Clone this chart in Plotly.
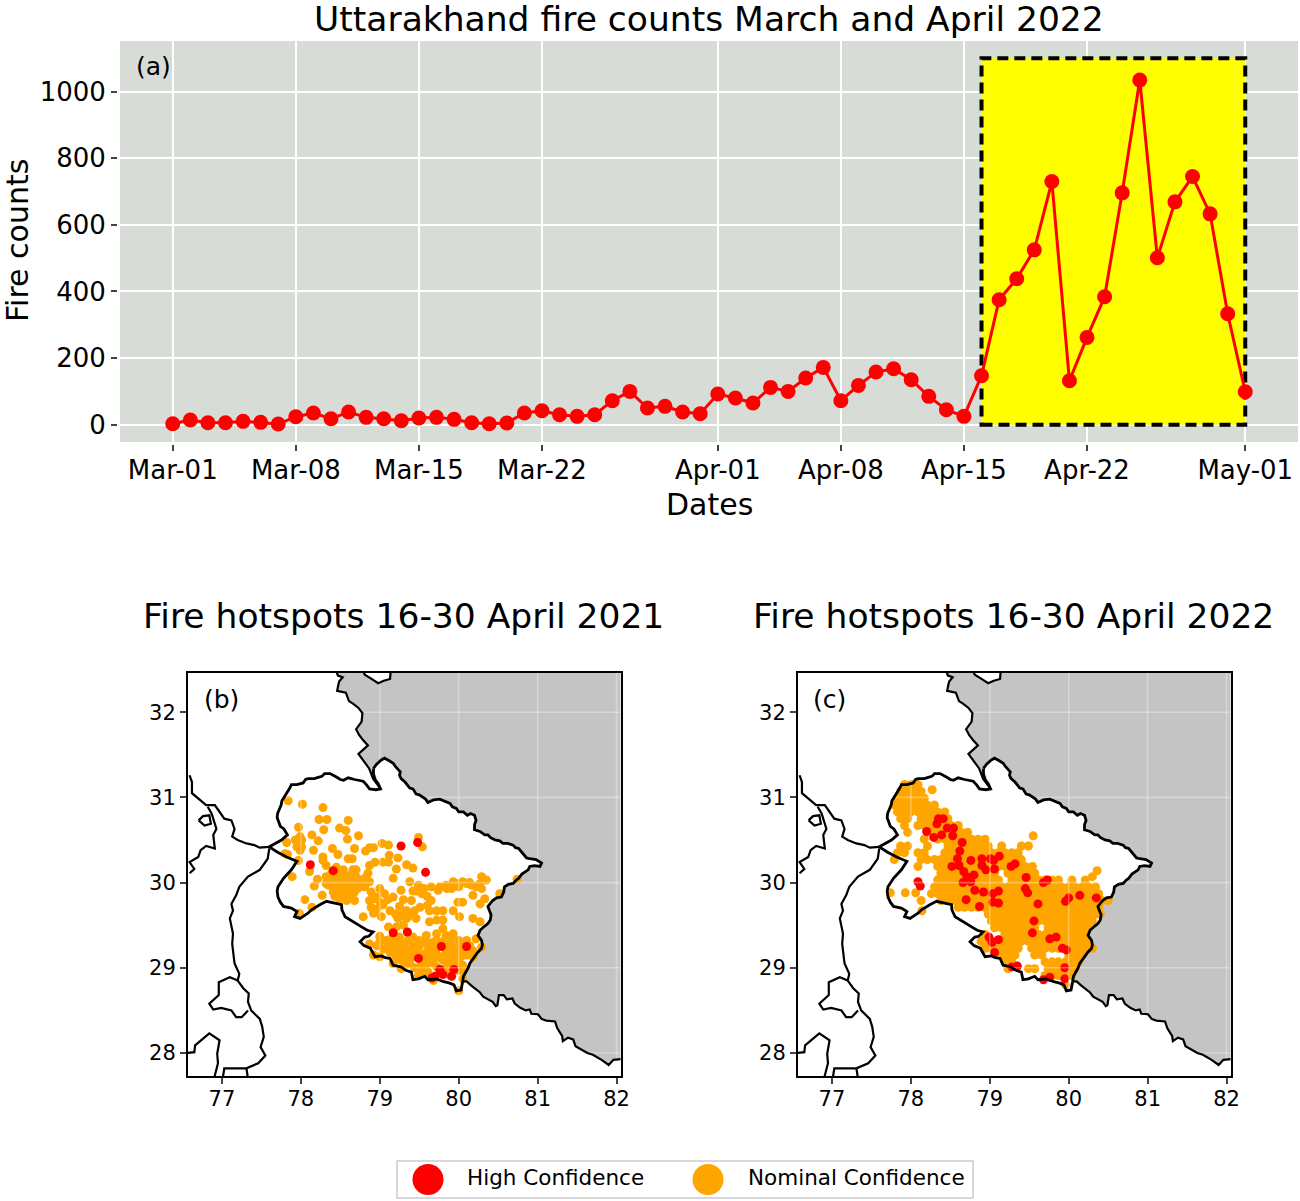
import plotly.graph_objects as go

W, H = 1300, 1201
FONT = "DejaVu Sans"

# Daily fire counts, 1 March to 1 May 2022
dates_march = [f"2022-03-{d:02d}" for d in range(1, 32)]
dates_april = [f"2022-04-{d:02d}" for d in range(1, 31)]
dates = dates_march + dates_april + ["2022-05-01"]
fire_counts = [3, 14, 6, 6, 10, 7, 2, 24, 35, 18, 38, 22, 18, 12, 20, 22, 16, 6, 3, 5, 35, 42, 30,
               25, 30, 72, 100, 50, 55, 38, 33,
               92, 80, 65, 112, 100, 140, 172, 72, 118, 158, 168, 135, 85, 45, 25,
               147, 375, 438, 525, 730, 132, 262, 384, 696, 1035, 501, 669, 745, 633, 333, 99]
date_ticks = ["2022-03-01", "2022-03-08", "2022-03-15", "2022-03-22", "2022-04-01",
              "2022-04-08", "2022-04-15", "2022-04-22", "2022-05-01"]
date_labels = ["Mar-01", "Mar-08", "Mar-15", "Mar-22", "Apr-01", "Apr-08", "Apr-15", "Apr-22", "May-01"]
count_ticks = [0, 200, 400, 600, 800, 1000]

# Map ticks in degrees
lon_ticks = [77, 78, 79, 80, 81, 82]
lat_ticks = [28, 29, 30, 31, 32]

# Uttarakhand outline (lon, lat), split at the corners it shares with the grey area
uttarakhand_west = [
    (77.60, 30.42), (77.68, 30.46), (77.755, 30.50), (77.83, 30.56), (77.80, 30.60), (77.785, 30.63), (77.74, 30.66),
    (77.72, 30.70), (77.70, 30.76), (77.705, 30.81), (77.73, 30.86), (77.75, 30.91), (77.76, 30.96), (77.78, 30.99),
    (77.84, 31.07), (77.86, 31.11), (77.88, 31.15), (77.95, 31.15), (78.03, 31.17), (78.06, 31.21), (78.09, 31.22),
    (78.17, 31.22), (78.24, 31.24), (78.27, 31.25), (78.30, 31.28), (78.37, 31.28), (78.45, 31.24), (78.50, 31.21),
    (78.54, 31.20), (78.60, 31.23), (78.68, 31.21), (78.79, 31.19), (78.83, 31.15), (78.87, 31.10), (78.95, 31.09),
    (79.01, 31.10), (78.98, 31.16), (78.94, 31.21), (78.92, 31.27),
]
uttarakhand_north_east = [
    (78.92, 31.34), (78.96, 31.39), (79.02, 31.44), (79.06, 31.46), (79.12, 31.43), (79.17, 31.40), (79.20, 31.36),
    (79.26, 31.30), (79.25, 31.26), (79.27, 31.22), (79.32, 31.18), (79.38, 31.11), (79.42, 31.10), (79.46, 31.04),
    (79.50, 31.03), (79.55, 31.00), (79.58, 30.98), (79.61, 30.94), (79.68, 30.97), (79.76, 30.98), (79.82, 30.96),
    (79.89, 30.93), (79.92, 30.89), (79.97, 30.87), (80.00, 30.83), (80.06, 30.83), (80.11, 30.79), (80.15, 30.81),
    (80.20, 30.79), (80.22, 30.73), (80.20, 30.68), (80.20, 30.62), (80.27, 30.60), (80.33, 30.56), (80.37, 30.56),
    (80.40, 30.53), (80.46, 30.50), (80.52, 30.49), (80.56, 30.46), (80.62, 30.46), (80.69, 30.44), (80.72, 30.41),
    (80.76, 30.40), (80.82, 30.34), (80.86, 30.29), (80.90, 30.28), (80.98, 30.27), (81.05, 30.23), (81.03, 30.19),
    (80.96, 30.20), (80.90, 30.19), (80.88, 30.15), (80.84, 30.13), (80.80, 30.10), (80.76, 30.05), (80.73, 30.03),
    (80.69, 29.99), (80.63, 29.98), (80.58, 29.95), (80.57, 29.89), (80.54, 29.83), (80.48, 29.82), (80.43, 29.79),
    (80.40, 29.75), (80.37, 29.72), (80.39, 29.67), (80.41, 29.62), (80.40, 29.56), (80.37, 29.52), (80.33, 29.49),
    (80.27, 29.44), (80.245, 29.38), (80.29, 29.32), (80.30, 29.27), (80.29, 29.23), (80.24, 29.18), (80.20, 29.13),
    (80.14, 29.05), (80.12, 29.00), (80.10, 28.97), (80.06, 28.90), (80.05, 28.84),
]
uttarakhand_south = [
    (80.05, 28.84), (80.04, 28.78), (80.03, 28.74), (79.97, 28.73), (79.94, 28.80), (79.885, 28.82), (79.80, 28.84),
    (79.72, 28.87), (79.61, 28.86), (79.57, 28.90), (79.49, 28.87), (79.42, 28.86), (79.41, 28.91), (79.40, 28.95),
    (79.33, 28.97), (79.27, 29.01), (79.17, 29.03), (79.15, 29.08), (79.13, 29.11), (79.07, 29.12), (79.02, 29.14),
    (78.94, 29.13), (78.91, 29.19), (78.88, 29.23), (78.80, 29.26), (78.75, 29.305), (78.81, 29.36), (78.86, 29.37),
    (78.915, 29.42), (78.84, 29.44), (78.77, 29.48), (78.68, 29.53), (78.62, 29.56), (78.56, 29.60), (78.54, 29.64),
    (78.52, 29.68), (78.515, 29.74), (78.43, 29.76), (78.325, 29.78), (78.24, 29.74), (78.135, 29.68), (78.09, 29.64),
    (77.99, 29.58), (77.92, 29.60), (77.95, 29.66), (77.88, 29.70), (77.78, 29.72), (77.74, 29.77), (77.71, 29.83),
    (77.70, 29.90), (77.71, 29.95), (77.78, 30.05), (77.83, 30.10), (77.88, 30.15), (77.95, 30.25), (77.82, 30.30),
    (77.70, 30.36), (77.60, 30.42),
]

# Northern border running down to the state's northern corner
china_west_border = [
    (78.44, 32.50), (78.47, 32.43), (78.53, 32.41), (78.485, 32.36), (78.47, 32.30), (78.46, 32.25), (78.57, 32.23),
    (78.61, 32.13), (78.66, 32.10), (78.73, 32.05), (78.78, 31.99), (78.77, 31.89), (78.70, 31.80), (78.74, 31.73),
    (78.79, 31.67), (78.85, 31.61), (78.73, 31.51), (78.79, 31.44), (78.865, 31.34), (78.915, 31.22), (78.97, 31.15),
    (79.01, 31.10),
]

# Nepal-India border, west to east
nepal_border = [
    (80.05, 28.84), (80.10, 28.84), (80.16, 28.79), (80.22, 28.74), (80.27, 28.71), (80.31, 28.66), (80.35, 28.64),
    (80.43, 28.60), (80.47, 28.55), (80.49, 28.56), (80.51, 28.68), (80.57, 28.68), (80.61, 28.63), (80.68, 28.64),
    (80.71, 28.58), (80.78, 28.53), (80.85, 28.50), (80.90, 28.51), (80.92, 28.46), (81.005, 28.455), (81.05, 28.40),
    (81.11, 28.38), (81.22, 28.37), (81.25, 28.29), (81.31, 28.20), (81.32, 28.14), (81.385, 28.18), (81.45, 28.16),
    (81.48, 28.08), (81.63, 28.00), (81.70, 27.98), (81.81, 27.92), (81.90, 27.86), (81.96, 27.92), (82.10, 27.93),
]

# Small border wedge on the top edge
top_notch = [(78.78, 32.50), (78.81, 32.44), (78.88, 32.40), (78.98, 32.34), (79.05, 32.37), (79.13, 32.39),
             (79.135, 32.45), (79.14, 32.50)]

# State borders across the plains
west_border_a = [
    (76.59, 31.26), (76.62, 31.18), (76.62, 31.05), (76.70, 30.99), (76.80, 30.91), (76.91, 30.91), (76.97, 30.83),
    (77.03, 30.75), (77.12, 30.73), (77.16, 30.63), (77.13, 30.54), (77.20, 30.50), (77.31, 30.46), (77.41, 30.44),
    (77.48, 30.41), (77.60, 30.42),
]
west_border_b = [
    (76.82, 30.89), (76.87, 30.81), (76.93, 30.63), (76.89, 30.56), (76.91, 30.40), (76.80, 30.43), (76.73, 30.38),
    (76.70, 30.30), (76.59, 30.24), (76.65, 30.16), (76.59, 30.11),
]
west_loop = [(76.705, 30.73), (76.76, 30.78), (76.84, 30.79), (76.86, 30.69), (76.78, 30.67), (76.705, 30.73)]
south_border = [
    (77.60, 30.40), (77.58, 30.28), (77.48, 30.15), (77.33, 30.07), (77.22, 29.95), (77.18, 29.85), (77.12, 29.75),
    (77.14, 29.67), (77.10, 29.58), (77.11, 29.54), (77.14, 29.40), (77.13, 29.28), (77.14, 29.17), (77.16, 29.05),
    (77.22, 28.93), (77.20, 28.85), (77.27, 28.76), (77.34, 28.70), (77.33, 28.60), (77.37, 28.50), (77.48, 28.40),
    (77.51, 28.31), (77.53, 28.19), (77.49, 28.07), (77.55, 27.97), (77.46, 27.88), (77.31, 27.82), (77.18, 27.82),
    (77.03, 27.82), (77.01, 27.70),
]
south_stub = [(77.31, 27.82), (77.33, 27.70)]
south_loop = [
    (77.20, 28.85), (77.10, 28.89), (76.96, 28.83), (76.96, 28.68), (76.84, 28.58), (76.89, 28.51), (76.99, 28.53),
    (77.12, 28.50), (77.18, 28.42), (77.25, 28.42), (77.33, 28.50),
]
south_west_border = [
    (76.55, 28.00), (76.65, 28.01), (76.66, 28.09), (76.78, 28.18), (76.84, 28.23), (76.97, 28.15), (76.94, 27.99),
    (76.95, 27.88), (76.90, 27.70),
]

# Fire detections for April 2021: nominal confidence
nominal_2021 = [
    (77.84, 30.96), (78.02, 30.92), (78.28, 30.88), (78.23, 30.74), (78.33, 30.74), (78.60, 30.73), (77.97, 30.65),
    (78.29, 30.62), (78.49, 30.64), (78.57, 30.61), (78.73, 30.55), (78.14, 30.56), (78.59, 30.51), (77.99, 30.54),
    (77.93, 30.50), (77.82, 30.47), (78.01, 30.50), (77.95, 30.42), (78.01, 30.42), (77.99, 30.38), (78.22, 30.49),
    (78.16, 30.38), (77.80, 30.34), (77.83, 30.33), (78.40, 30.40), (78.28, 30.30), (78.47, 30.33), (78.60, 30.28),
    (78.65, 30.28), (78.68, 30.40), (78.82, 30.37), (78.87, 30.41), (78.92, 30.41), (79.03, 30.46), (79.11, 30.44),
    (79.49, 30.53), (79.54, 30.42), (79.23, 30.29), (79.12, 30.32), (79.11, 30.24), (79.04, 30.24), (78.94, 30.24),
    (78.87, 30.20), (79.34, 30.21), (79.42, 30.17), (79.21, 30.16), (79.17, 30.05), (78.85, 30.11), (78.81, 30.05),
    (78.28, 30.26), (78.32, 30.20), (77.97, 30.26), (78.11, 30.13), (77.89, 30.07), (78.21, 30.04), (78.17, 29.96),
    (78.27, 29.85), (78.05, 29.80), (78.14, 29.71), (77.98, 29.64),
    (78.45, 30.18), (78.54, 30.15), (78.39, 30.11), (78.32, 30.07), (78.45, 30.09), (78.56, 30.07), (78.66, 30.15),
    (78.70, 30.07), (78.77, 30.03), (78.41, 30.03), (78.49, 30.01), (78.60, 29.99), (78.68, 29.99), (78.35, 29.97),
    (78.43, 29.95), (78.54, 29.93), (78.64, 29.93), (78.75, 29.95), (78.81, 29.95), (78.41, 29.89), (78.49, 29.87),
    (78.60, 29.87), (78.68, 29.89), (78.49, 29.81), (78.58, 29.79), (78.68, 29.79), (78.32, 29.99), (78.70, 30.15),
    (78.87, 30.01), (78.52, 30.03), (78.47, 29.92), (78.55, 29.84), (78.50, 30.10), (78.60, 30.08), (78.38, 30.05),
    (78.45, 29.98), (78.55, 29.98), (78.52, 29.90), (78.62, 29.83), (78.43, 29.84), (78.64, 30.03), (78.72, 29.93),
    (78.89, 29.89), (78.96, 29.83), (78.87, 29.79), (79.00, 29.77), (79.06, 29.87), (79.17, 29.83), (79.13, 29.67),
    (78.96, 29.69), (79.02, 29.60), (78.89, 29.71), (78.79, 29.60), (78.92, 29.64), (79.27, 29.91), (79.38, 30.01),
    (79.49, 29.97), (79.53, 29.87), (79.40, 29.79), (79.51, 29.71), (79.65, 29.79), (79.34, 29.67), (79.23, 29.58),
    (79.34, 29.58), (79.46, 29.58), (79.30, 29.50), (79.11, 29.48), (79.21, 29.48), (79.00, 29.37), (79.65, 29.95),
    (79.74, 29.91), (79.84, 29.97), (79.93, 30.01), (80.05, 30.01), (80.16, 29.97), (80.29, 30.07), (80.35, 30.03),
    (80.29, 29.93), (80.18, 29.85), (80.33, 29.81), (80.27, 29.75), (80.05, 29.77), (79.99, 29.77), (79.93, 29.67),
    (80.01, 29.60), (80.18, 29.58), (80.27, 29.54), (79.80, 29.67), (79.72, 29.67), (79.63, 29.67), (79.80, 29.56),
    (79.72, 29.56), (79.63, 29.54), (80.52, 29.87), (80.74, 30.04), (79.76, 29.95), (79.91, 29.93), (80.10, 29.99),
    (80.22, 29.95), (79.97, 29.99), (79.00, 29.93), (79.10, 29.80), (79.25, 29.72), (79.46, 29.90), (79.60, 29.73),
    (79.30, 29.80), (79.44, 29.67), (78.93, 29.81), (79.04, 29.74), (79.20, 29.63), (79.28, 29.62), (79.40, 29.62),
    (79.42, 29.90), (79.56, 29.93), (79.60, 29.84), (79.85, 29.93), (80.00, 29.95), (80.14, 30.00), (80.26, 29.98),
    (79.80, 29.46), (79.72, 29.40), (79.59, 29.38), (79.42, 29.36), (79.93, 29.40), (79.84, 29.38), (80.10, 29.32),
    (80.22, 29.34), (80.29, 29.24), (79.25, 29.36), (79.08, 29.32), (78.96, 29.26), (78.87, 29.28), (79.04, 29.22),
    (79.17, 29.24), (79.30, 29.28), (79.42, 29.26), (79.55, 29.30), (79.68, 29.30), (79.89, 29.30), (79.97, 29.24),
    (80.18, 29.20), (79.21, 29.13), (79.34, 29.18), (79.46, 29.20), (79.59, 29.18), (79.72, 29.16), (79.84, 29.18),
    (79.97, 29.13), (80.10, 29.15), (80.18, 29.13), (79.00, 29.13), (79.17, 29.05), (79.27, 28.99), (79.38, 29.05),
    (79.51, 29.01), (79.63, 29.07), (79.80, 29.09), (79.93, 29.07), (80.05, 29.03), (79.61, 28.95), (79.49, 28.91),
    (79.68, 28.85), (80.00, 28.73), (79.84, 29.01), (78.92, 29.15), (79.13, 29.18), (79.27, 29.09), (79.97, 28.97),
    (80.05, 28.87), (79.42, 29.13), (79.53, 29.09), (79.68, 29.22), (79.78, 29.26), (80.05, 29.24), (80.14, 29.26),
    (79.23, 29.22), (79.89, 29.13), (79.72, 29.01), (80.03, 29.13), (79.12, 29.26), (79.36, 29.33), (79.50, 29.25),
    (79.62, 29.24), (79.92, 29.22), (80.00, 29.32), (79.90, 28.99), (79.78, 28.96), (79.60, 29.12), (79.34, 29.10),
    (79.00, 29.30), (79.12, 29.33), (79.20, 29.31), (79.28, 29.21), (79.38, 29.22), (79.50, 29.32), (79.60, 29.30),
    (79.72, 29.32), (79.82, 29.32), (79.90, 29.36), (80.00, 29.18), (80.08, 29.20), (80.15, 29.20), (79.88, 29.08),
    (79.76, 29.12), (79.66, 29.13), (79.52, 29.15), (79.58, 29.03), (79.68, 29.05), (79.98, 29.05), (80.03, 28.97),
    (79.85, 29.24), (79.72, 29.24), (79.27, 29.16), (79.33, 29.04), (79.44, 29.00), (79.54, 28.96), (79.88, 28.92),
]

# Fire detections for April 2021: high confidence
high_2021 = [
    (79.27, 30.43), (79.48, 30.47), (79.58, 30.12), (78.12, 30.21), (78.41, 30.14), (79.17, 29.41), (79.35, 29.42),
    (79.78, 29.25), (80.10, 29.25), (79.49, 29.11), (79.76, 28.98), (79.94, 28.98), (79.70, 28.90), (79.80, 28.92),
    (79.91, 28.90), (79.66, 28.88),
]

# Fire detections for April 2022: nominal confidence, one row per band of latitude
nominal_2022_rows = [
    (31.15, [77.92, 78.00, 78.09]),
    (31.09, [78.27]),
    (31.07, [77.87, 77.96, 78.04, 78.13]),
    (30.99, [77.83, 77.92, 78.00, 78.09, 78.17]),
    (30.91, [77.79, 77.87, 77.96, 78.04, 78.13, 78.21, 78.30]),
    (30.83, [77.83, 77.92, 78.00, 78.09, 78.17, 78.26, 78.34, 78.43]),
    (30.75, [77.87, 77.96, 78.13, 78.21, 78.30, 78.38, 78.47]),
    (30.67, [77.92, 78.09, 78.17, 78.26, 78.34, 78.43, 78.51, 78.60]),
    (30.59, [77.96, 78.21, 78.30, 78.38, 78.47, 78.55, 78.64, 78.72]),
    (30.55, [79.55]),
    (30.51, [78.17, 78.34, 78.43, 78.51, 78.60, 78.68, 78.77, 78.85, 78.94]),
    (30.43, [77.87, 77.96, 78.21, 78.47, 78.55, 78.64, 78.72, 78.81, 78.89, 78.98, 79.15, 79.40, 79.49]),
    (30.35, [77.83, 77.92, 78.09, 78.17, 78.43, 78.51, 78.60, 78.68, 78.77, 78.85, 78.94, 79.02, 79.11, 79.19, 79.28, 79.36]),
    (30.27, [77.79, 78.13, 78.21, 78.30, 78.38, 78.47, 78.55, 78.64, 78.72, 78.81, 78.89, 78.98, 79.06, 79.15, 79.23, 79.32, 79.40]),
    (30.19, [78.09, 78.34, 78.43, 78.51, 78.60, 78.68, 78.77, 78.85, 78.94, 79.02, 79.11, 79.19, 79.28, 79.36, 79.45, 79.54]),
    (30.14, [80.36]),
    (30.11, [78.38, 78.47, 78.55, 78.64, 78.72, 78.81, 78.89, 78.98, 79.06, 79.23, 79.32, 79.40, 79.49, 79.57]),
    (30.07, [80.30]),
    (30.03, [78.34, 78.43, 78.51, 78.60, 78.68, 78.77, 78.85, 78.94, 79.02, 79.11, 79.28, 79.36, 79.45, 79.53, 79.62, 79.70, 79.79,
             79.87, 80.04, 80.21]),
    (29.95, [78.30, 78.38, 78.47, 78.55, 78.64, 78.72, 78.81, 78.89, 78.98, 79.06, 79.15, 79.23, 79.32, 79.40, 79.49, 79.57,
             79.66, 79.74, 79.83, 79.91, 80.00, 80.08, 80.17, 80.25, 80.34]),
    (29.88, [77.93, 78.06, 77.74]),
    (29.87, [78.26, 78.34, 78.43, 78.51, 78.60, 78.68, 78.77, 78.85, 78.94, 79.02, 79.11, 79.19, 79.28, 79.36, 79.45,
             79.53, 79.62, 79.70, 79.79, 79.87, 79.96, 80.04, 80.13, 80.21, 80.30, 80.38]),
    (29.79, [78.13, 78.38, 78.47, 78.55, 78.64, 78.72, 78.81, 78.89, 78.98, 79.06, 79.15, 79.23, 79.32, 79.40, 79.49,
             79.57, 79.66, 79.74, 79.83, 79.91, 80.00, 80.08, 80.17, 80.25, 80.34, 80.42, 80.50]),
    (29.71, [78.60, 78.68, 78.77, 78.85, 78.94, 79.02, 79.11, 79.19, 79.28, 79.36, 79.45, 79.53, 79.62, 79.70, 79.79,
             79.87, 79.96, 80.04, 80.13, 80.21, 80.30, 80.38]),
    (29.67, [78.14]),
    (29.63, [78.98, 79.06, 79.15, 79.23, 79.32, 79.40, 79.49, 79.57, 79.66, 79.74, 79.83, 79.91, 80.00, 80.08, 80.17,
             80.25, 80.34, 80.40]),
    (29.55, [79.02, 79.11, 79.19, 79.28, 79.36, 79.45, 79.53, 79.62, 79.70, 79.79, 79.87, 79.96, 80.04, 80.13, 80.21, 80.30]),
    (29.47, [79.06, 79.15, 79.23, 79.32, 79.40, 79.49, 79.57, 79.74, 79.83, 79.91, 80.00, 80.08, 80.17, 80.25]),
    (29.39, [78.94, 79.19, 79.28, 79.36, 79.45, 79.53, 79.62, 79.70, 79.79, 79.87, 79.96, 80.04, 80.13, 80.21]),
    (29.31, [78.89, 78.98, 79.06, 79.15, 79.23, 79.32, 79.40, 79.49, 79.57, 79.66, 79.74, 79.83, 79.91, 80.00, 80.08,
             80.17, 80.25]),
    (29.23, [78.94, 79.02, 79.11, 79.19, 79.28, 79.36, 79.53, 79.62, 79.70, 79.79, 79.87, 79.96, 80.04, 80.13, 80.21, 80.30]),
    (29.15, [79.15, 79.23, 79.32, 79.57, 79.66, 80.00, 80.08, 80.17]),
    (29.07, [79.19, 79.28, 79.70, 79.79, 79.87, 79.96, 80.04, 80.13]),
    (28.99, [79.23, 79.49, 79.57, 79.74, 79.83, 79.91, 80.00, 80.08]),
    (28.91, [79.70, 79.79, 79.87, 79.96, 80.04]),
    (28.80, [79.96]),
]

# Fire detections for April 2022: high confidence
high_2022 = [
    (78.35, 30.75), (78.41, 30.75), (78.33, 30.69), (78.46, 30.64), (78.54, 30.64), (78.53, 30.55), (78.39, 30.56),
    (78.20, 30.60), (78.29, 30.53), (78.65, 30.47), (78.62, 30.37), (78.59, 30.28), (78.76, 30.26), (78.52, 30.19),
    (78.61, 30.20), (78.67, 30.13), (78.90, 30.28), (79.01, 30.28), (79.12, 30.31), (78.90, 30.20), (78.95, 30.15),
    (79.06, 30.16), (79.05, 30.26), (78.71, 30.07), (78.80, 30.09), (78.76, 30.01), (78.66, 30.00), (79.32, 30.22),
    (79.27, 30.19), (79.46, 30.06), (79.68, 30.00), (79.73, 30.03), (79.45, 29.93), (79.48, 29.88), (79.61, 29.75),
    (79.56, 29.55), (79.54, 29.41), (79.76, 29.34), (79.84, 29.36), (79.92, 29.23), (79.97, 29.21), (79.95, 29.00),
    (79.95, 28.87), (79.68, 28.86), (79.76, 28.89), (80.00, 29.82), (79.96, 29.78), (80.14, 29.85), (80.35, 29.82),
    (78.09, 30.01), (78.12, 29.96), (78.81, 29.91), (78.92, 29.89), (79.04, 29.87), (79.11, 29.90), (79.04, 29.77),
    (79.11, 29.76), (78.87, 29.72), (78.70, 29.80), (78.99, 29.36), (79.03, 29.30), (79.11, 29.33), (79.06, 29.18),
    (79.28, 29.01), (79.35, 29.02),
]

legend_labels = ["High Confidence", "Nominal Confidence"]
legend_colors = ["#ff0000", "#ffa500"]
RED, ORANGE = legend_colors
LAND_GREY = "#c4c4c4"
PANEL_GREY = "#d8dcd6"


def frac_x(px):
    return px / W


def frac_y(px):
    return 1 - px / H


def unzip(points):
    return [p[0] for p in points], [p[1] for p in points]


nominal_2022 = [(lon, lat) for lat, lons in nominal_2022_rows for lon in lons]

fig = go.Figure()

# Time series of fire counts
fig.add_trace(go.Scatter(x=dates, y=fire_counts, mode="lines+markers", xaxis="x", yaxis="y",
                         line=dict(color=RED, width=3), marker=dict(color=RED, size=15),
                         showlegend=False, hoverinfo="x+y"))

# Grey area outside India, closed round the plot's top-right corner
grey_outline = china_west_border + uttarakhand_north_east + nepal_border + [(82.10, 32.50)] + top_notch[::-1]


def add_map(axis_x, axis_y, nominal, high):
    common = dict(xaxis=axis_x, yaxis=axis_y, showlegend=False, hoverinfo="skip")
    gx, gy = unzip(grey_outline)
    fig.add_trace(go.Scatter(x=gx, y=gy, mode="none", fill="toself", fillcolor=LAND_GREY, **common))
    nx, ny = unzip(nominal)
    fig.add_trace(go.Scatter(x=nx, y=ny, mode="markers", marker=dict(color=ORANGE, size=9),
                             name=legend_labels[1], xaxis=axis_x, yaxis=axis_y, showlegend=False))
    hx, hy = unzip(high)
    fig.add_trace(go.Scatter(x=hx, y=hy, mode="markers", marker=dict(color=RED, size=9),
                             name=legend_labels[0], xaxis=axis_x, yaxis=axis_y, showlegend=False))
    # Graticule runs over the land fill and the dots, fading out on white
    for lon in lon_ticks:
        fig.add_trace(go.Scatter(x=[lon, lon], y=[27.7, 32.5], mode="lines",
                                 line=dict(color="rgba(255,255,255,0.32)", width=1.6), **common))
    for lat in lat_ticks:
        fig.add_trace(go.Scatter(x=[76.5, 82.1], y=[lat, lat], mode="lines",
                                 line=dict(color="rgba(255,255,255,0.32)", width=1.6), **common))
    thin = [china_west_border, nepal_border, top_notch, west_border_a, west_border_b, west_loop,
            south_border, south_stub, south_loop, south_west_border]
    for seg in thin:
        sx, sy = unzip(seg)
        fig.add_trace(go.Scatter(x=sx, y=sy, mode="lines", line=dict(color="black", width=2.2), **common))
    for seg in [uttarakhand_west + uttarakhand_north_east[:1], uttarakhand_north_east, uttarakhand_south]:
        sx, sy = unzip(seg)
        fig.add_trace(go.Scatter(x=sx, y=sy, mode="lines", line=dict(color="black", width=2.8), **common))


add_map("x2", "y2", nominal_2021, high_2021)
add_map("x3", "y3", nominal_2022, high_2022)

# Legend drawn on its own small axes so that the keys can be large
fig.add_trace(go.Scatter(x=[31, 311], y=[0, 0], mode="markers", xaxis="x4", yaxis="y4",
                         marker=dict(color=legend_colors, size=31), showlegend=False, hoverinfo="skip"))
fig.add_trace(go.Scatter(x=[70, 351], y=[0, 0], mode="text", xaxis="x4", yaxis="y4", text=legend_labels,
                         textposition="middle right", textfont=dict(family=FONT, size=21.5, color="black"),
                         showlegend=False, hoverinfo="skip"))

map_axis = dict(showgrid=False, zeroline=False, showline=True, mirror=True, linecolor="black", linewidth=2,
                ticks="outside", ticklen=6, tickwidth=1.6, tickcolor="#444444", automargin=False,
                tickfont=dict(family=FONT, size=21, color="black"))

fig.update_layout(
    width=W, height=H, margin=dict(l=0, r=0, t=0, b=0, autoexpand=False), paper_bgcolor="white", plot_bgcolor="white",
    font=dict(family=FONT, color="black"), showlegend=False,
    xaxis=dict(domain=[frac_x(120), frac_x(1298)], type="date", range=["2022-02-26", "2022-05-04"],
               tickmode="array", tickvals=date_ticks, ticktext=date_labels, tickangle=0, automargin=False,
               showgrid=True, gridcolor="white", gridwidth=2, zeroline=False, ticklabelstandoff=-3,
               showline=True, linecolor="white", linewidth=3, ticks="outside", ticklen=6, tickwidth=1.5,
               tickcolor="#444444", tickfont=dict(family=FONT, size=26, color="black"), anchor="y"),
    yaxis=dict(domain=[frac_y(442), frac_y(41)], range=[-52, 1152], tickmode="array", tickvals=count_ticks,
               automargin=False, showgrid=True, gridcolor="white", gridwidth=2, zeroline=False,
               showline=True, linecolor="white", linewidth=3, ticks="outside", ticklen=6, tickwidth=1.5,
               tickcolor="#444444", tickfont=dict(family=FONT, size=26, color="black"), anchor="x"),
    xaxis2=dict(domain=[frac_x(188), frac_x(620.5)], range=[76.57, 82.05], tickvals=lon_ticks, anchor="y2",
                ticklabelstandoff=-3, **map_axis),
    yaxis2=dict(domain=[frac_y(1076), frac_y(673)], range=[27.73, 32.46], tickvals=lat_ticks, anchor="x2", **map_axis),
    xaxis3=dict(domain=[frac_x(798), frac_x(1230.5)], range=[76.57, 82.05], tickvals=lon_ticks, anchor="y3",
                ticklabelstandoff=-3, **map_axis),
    yaxis3=dict(domain=[frac_y(1076), frac_y(673)], range=[27.73, 32.46], tickvals=lat_ticks, anchor="x3", **map_axis),
    xaxis4=dict(domain=[frac_x(397), frac_x(973)], range=[0, 576], visible=False, anchor="y4"),
    yaxis4=dict(domain=[frac_y(1198), frac_y(1161)], range=[-1, 1], visible=False, anchor="x4"),
    shapes=[
        dict(type="rect", xref="x domain", yref="y domain", x0=0, x1=1, y0=0, y1=1, layer="below",
             fillcolor=PANEL_GREY, line=dict(width=0)),
        dict(type="rect", xref="x", yref="y", x0="2022-04-16", x1="2022-05-01", y0=0, y1=1100, layer="between",
             fillcolor="#ffff00", line=dict(color="black", width=4, dash="11px,6px")),
        dict(type="rect", xref="paper", yref="paper", x0=frac_x(397), x1=frac_x(973), y0=frac_y(1198), y1=frac_y(1161),
             line=dict(color="#cccccc", width=1.5), fillcolor="rgba(0,0,0,0)", layer="below"),
    ],
    annotations=[
        dict(text="Uttarakhand fire counts March and April 2022", xref="paper", yref="paper", x=frac_x(709), y=frac_y(19),
             showarrow=False, font=dict(family=FONT, size=34.5), xanchor="center", yanchor="middle"),
        dict(text="Fire hotspots 16-30 April 2021", xref="paper", yref="paper", x=frac_x(404), y=frac_y(616),
             showarrow=False, font=dict(family=FONT, size=34.5), xanchor="center", yanchor="middle"),
        dict(text="Fire hotspots 16-30 April 2022", xref="paper", yref="paper", x=frac_x(1013), y=frac_y(616),
             showarrow=False, font=dict(family=FONT, size=34.5), xanchor="center", yanchor="middle"),
        dict(text="Dates", xref="paper", yref="paper", x=frac_x(709), y=frac_y(504),
             showarrow=False, font=dict(family=FONT, size=30), xanchor="center", yanchor="middle"),
        dict(text="Fire counts", xref="paper", yref="paper", x=frac_x(17), y=frac_y(241), textangle=-90,
             showarrow=False, font=dict(family=FONT, size=30), xanchor="center", yanchor="middle"),
        dict(text="(a)", xref="paper", yref="paper", x=frac_x(153), y=frac_y(66), showarrow=False,
             font=dict(family=FONT, size=25), xanchor="center", yanchor="middle"),
        dict(text="(b)", xref="paper", yref="paper", x=frac_x(221), y=frac_y(699), showarrow=False,
             font=dict(family=FONT, size=25), xanchor="center", yanchor="middle"),
        dict(text="(c)", xref="paper", yref="paper", x=frac_x(830), y=frac_y(699), showarrow=False,
             font=dict(family=FONT, size=25), xanchor="center", yanchor="middle"),
    ],
)

fig.write_html("out.html", config={"responsive": False},
               post_script="document.documentElement.style.overflow='hidden';")
